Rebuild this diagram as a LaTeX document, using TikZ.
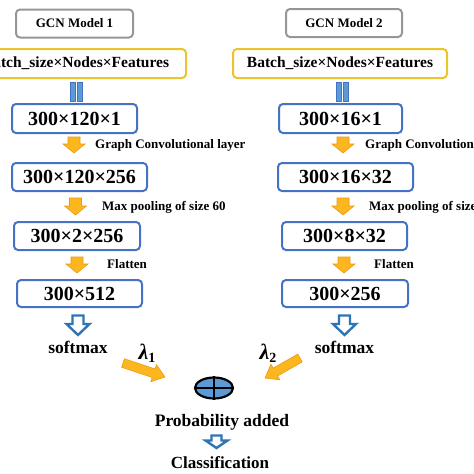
\documentclass[tikz,border=0pt]{standalone}
\usepackage{fontspec}
\setmainfont{Liberation Serif}
\usetikzlibrary{calc,shapes.geometric}
\definecolor{boxblue}{RGB}{68,114,196}
\definecolor{boxgold}{RGB}{235,195,45}
\definecolor{boxgray}{RGB}{150,150,150}
\definecolor{arrorange}{RGB}{252,182,30}
\definecolor{arrorangedk}{RGB}{236,152,20}
\definecolor{hollowblue}{RGB}{46,117,182}
\definecolor{fillblue}{RGB}{91,155,213}
\newcommand{\blkarrow}[6]{%
  \path ($(#2)!#5!(#1)$) coordinate (hTmp);
  \draw[#6] ($(#1)!#3!90:(#2)$) -- ($(hTmp)!#3!90:(#2)$) -- ($(hTmp)!#4!90:(#2)$) -- (#2)
    -- ($(hTmp)!#4!-90:(#2)$) -- ($(hTmp)!#3!-90:(#2)$) -- ($(#1)!#3!-90:(#2)$) -- cycle;}
\tikzset{
  base/.style={rounded corners=4pt, line width=2pt, inner sep=0pt, align=center,
    font=\fontsize{20}{20}\selectfont\bfseries},
  shapebox/.style={base, draw=boxblue, minimum height=28pt},
  titlebox/.style={base, draw=boxgray, minimum height=28pt, font=\fontsize{13}{13}\selectfont\bfseries},
  inbox/.style={base, draw=boxgold, minimum height=29pt, font=\fontsize{15.5}{15.5}\selectfont\bfseries},
  steplabel/.style={anchor=west, inner sep=0pt, font=\fontsize{13}{13}\selectfont\bfseries},
  bigtext/.style={inner sep=0pt, font=\fontsize{17.5}{17.5}\selectfont\bfseries},
  lamtext/.style={inner sep=0pt, font=\fontsize{22}{22}\selectfont\bfseries\itshape},
  orangearr/.style={fill=arrorange, draw=arrorangedk, line width=0.6pt},
  hollowarr/.style={fill=white, draw=hollowblue, line width=2.4pt, line join=miter},
  barfill/.style={fill=fillblue, draw=boxblue, line width=0.6pt}
}
\begin{document}
\begin{tikzpicture}[x=1pt,y=-1pt]
\useasboundingbox (0,0) rectangle (474,474);
\clip (0,0) rectangle (474,474);

% ---------- left column ----------
\node[titlebox, minimum width=117pt] (gcn1) at (74.5,23.5) {GCN Model 1};
\node[inbox, minimum width=220pt] (in1) at (76,63.5) {Batch\_size×Nodes×Features};
\draw[barfill] (70,82) rectangle (75,101);
\draw[barfill] (77,82) rectangle (82,101);
\node[shapebox, minimum width=125pt, minimum height=29pt] (a1) at (74.5,118.5) {300×120×1};
\node[shapebox, minimum width=135pt] (a2) at (79.5,177) {300×120×256};
\node[shapebox, minimum width=126pt] (a3) at (77,236) {300×2×256};
\node[shapebox, minimum width=125pt, minimum height=27pt] (a4) at (79.5,293.5) {300×512};
\node[bigtext] (sm1) at (78,347) {softmax};

\coordinate (la1s) at (74,137);   \coordinate (la1e) at (74,153);
\coordinate (la2s) at (75.5,198); \coordinate (la2e) at (75.5,215);
\coordinate (la3s) at (77,257);   \coordinate (la3e) at (77,273);
\blkarrow{la1s}{la1e}{6pt}{11pt}{9pt}{orangearr}
\blkarrow{la2s}{la2e}{6pt}{11pt}{9pt}{orangearr}
\blkarrow{la3s}{la3e}{6pt}{11pt}{9pt}{orangearr}
\node[steplabel] (lt1) at (95,145) {Graph Convolutional layer};
\node[steplabel] (lt2) at (102,207) {Max pooling of size 60};
\node[steplabel] (lt3) at (107,264) {Flatten};
\coordinate (lh1s) at (78,315.5); \coordinate (lh1e) at (78,335);
\blkarrow{lh1s}{lh1e}{5.5pt}{11.5pt}{11pt}{hollowarr}

% ---------- right column ----------
\node[titlebox, minimum width=116pt] (gcn2) at (344,23) {GCN Model 2};
\node[inbox, minimum width=214pt] (in2) at (340,63.5) {Batch\_size×Nodes×Features};
\draw[barfill] (336,82) rectangle (341,101);
\draw[barfill] (343,82) rectangle (348,101);
\node[shapebox, minimum width=123pt, minimum height=29pt] (b1) at (340.5,118.5) {300×16×1};
\node[shapebox, minimum width=135pt] (b2) at (345.5,177) {300×16×32};
\node[shapebox, minimum width=125pt] (b3) at (344.5,236) {300×8×32};
\node[shapebox, minimum width=126pt, minimum height=27pt] (b4) at (345,293.5) {300×256};
\node[bigtext] (sm2) at (344.5,347) {softmax};

\coordinate (ra1s) at (343,137); \coordinate (ra1e) at (343,153);
\coordinate (ra2s) at (343,198); \coordinate (ra2e) at (343,215);
\coordinate (ra3s) at (344,257); \coordinate (ra3e) at (344,273);
\blkarrow{ra1s}{ra1e}{6pt}{11pt}{9pt}{orangearr}
\blkarrow{ra2s}{ra2e}{6pt}{11pt}{9pt}{orangearr}
\blkarrow{ra3s}{ra3e}{6pt}{11pt}{9pt}{orangearr}
\node[steplabel] (rt1) at (365,145) {Graph Convolutional layer};
\node[steplabel] (rt2) at (369,207) {Max pooling of size 60};
\node[steplabel] (rt3) at (374,264) {Flatten};
\coordinate (rh1s) at (344.5,315.5); \coordinate (rh1e) at (344.5,335);
\blkarrow{rh1s}{rh1e}{5.5pt}{11.5pt}{11pt}{hollowarr}

% ---------- merge ----------
\node[lamtext] (lam1) at (147,353) {λ\raisebox{-3.5pt}{\fontsize{14}{14}\selectfont\upshape 1}};
\node[lamtext] (lam2) at (268,353) {λ\raisebox{-3.5pt}{\fontsize{14}{14}\selectfont\upshape 2}};
\coordinate (d1s) at (123,363); \coordinate (d1e) at (165,377);
\coordinate (d2s) at (300,358); \coordinate (d2e) at (265,378);
\blkarrow{d1s}{d1e}{4.5pt}{9pt}{12pt}{orangearr}
\blkarrow{d2s}{d2e}{4.5pt}{9pt}{12pt}{orangearr}

\node[draw=black, line width=2.2pt, fill=fillblue, ellipse, minimum width=38pt, minimum height=21pt, inner sep=0pt] (sum) at (214,388) {};
\draw[line width=1.8pt] (sum.north) -- (sum.south);
\draw[line width=1.8pt] (sum.west) -- (sum.east);

\node[bigtext] (prob) at (222,422) {Probability added};
\coordinate (bhs) at (216.5,435.5); \coordinate (bhe) at (216.5,448);
\blkarrow{bhs}{bhe}{5pt}{11pt}{7.5pt}{hollowarr}
\node[bigtext, font=\fontsize{17}{17}\selectfont\bfseries] (cls) at (220,463) {Classification};
\end{tikzpicture}
\end{document}
